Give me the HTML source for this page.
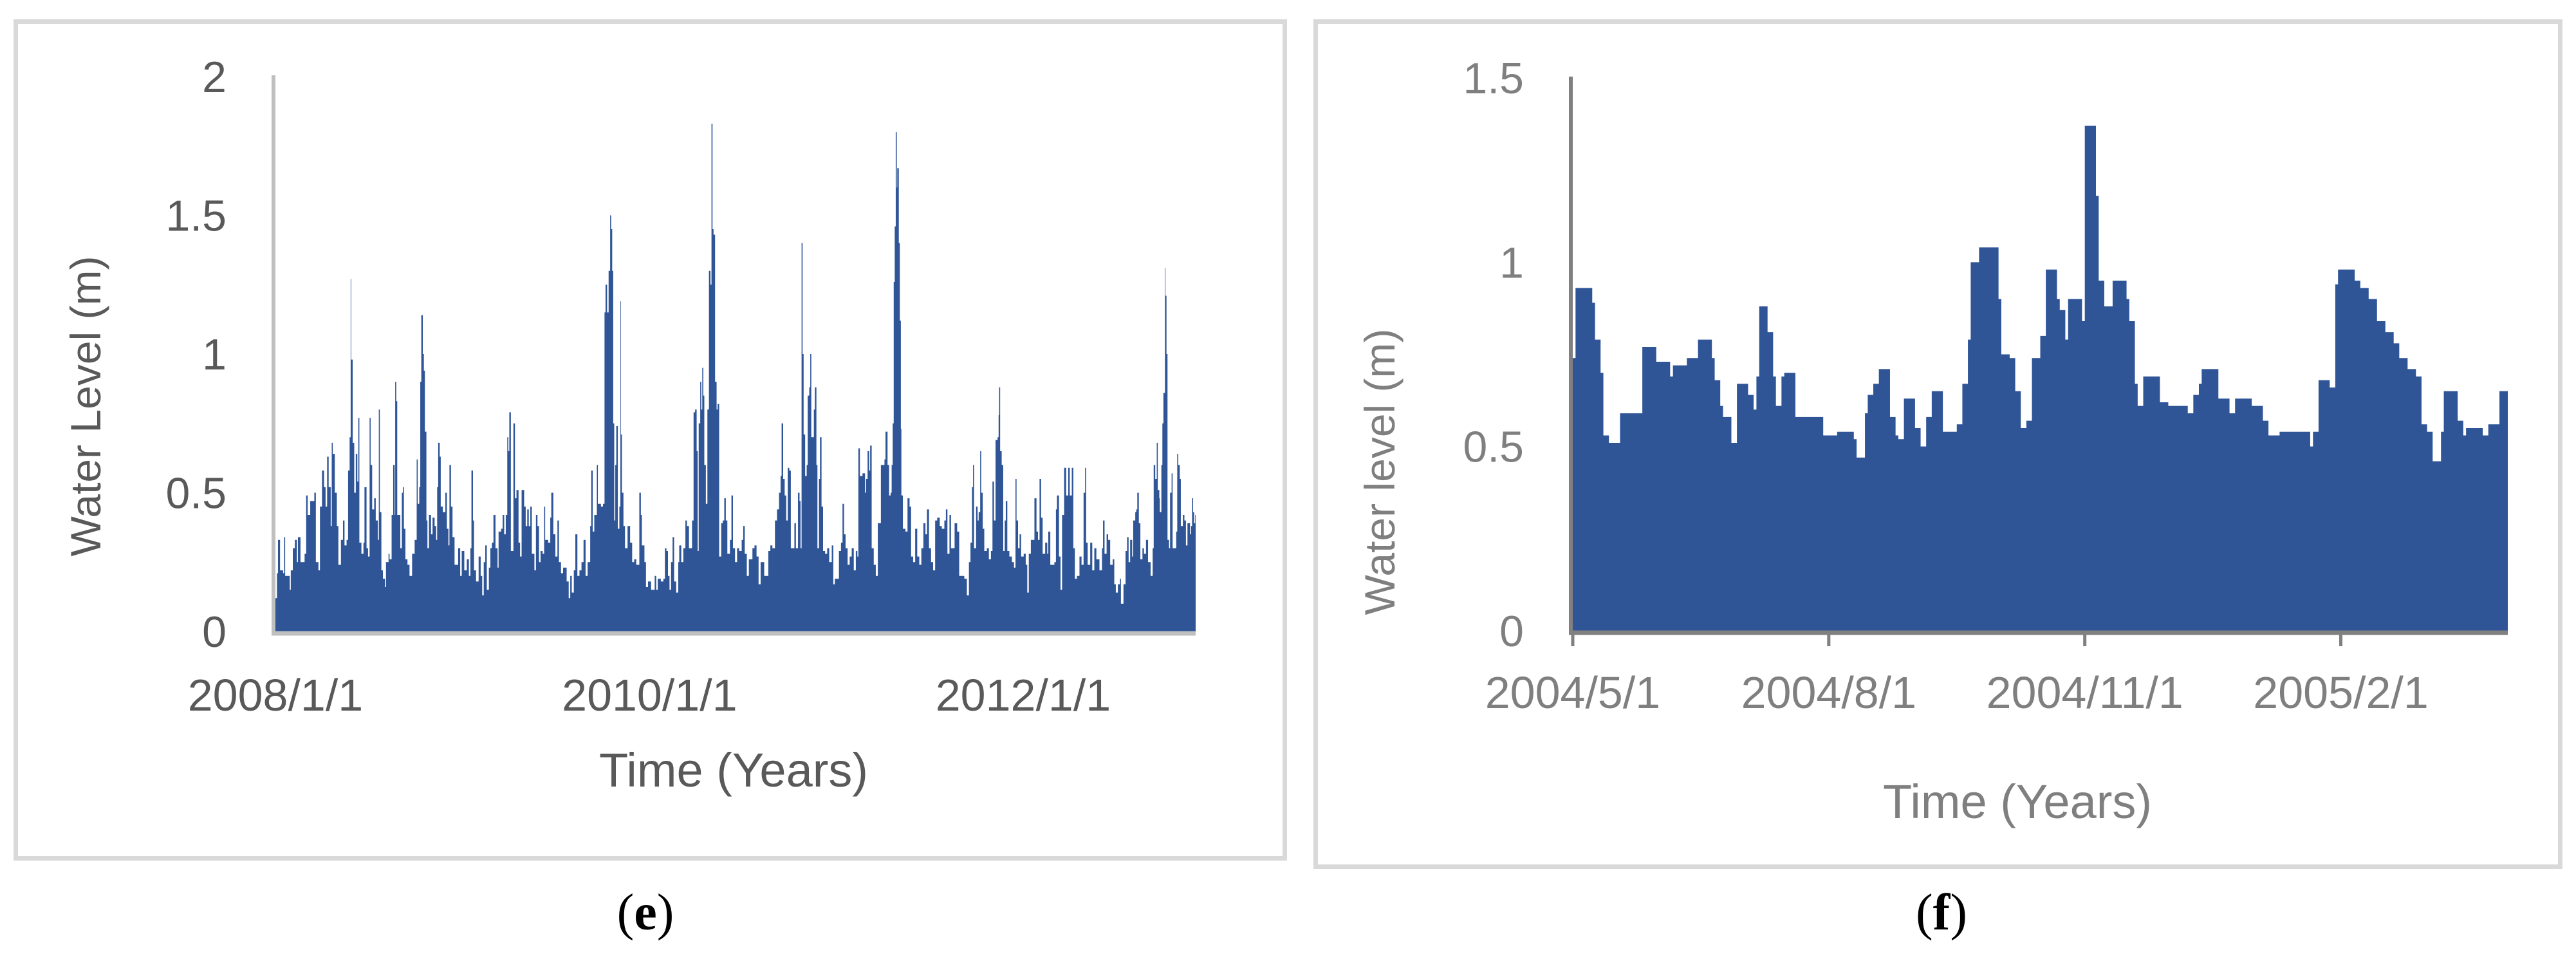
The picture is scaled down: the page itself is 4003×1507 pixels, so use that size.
<!DOCTYPE html>
<html><head><meta charset="utf-8"><style>
html,body{margin:0;padding:0;background:#fff;}
svg{display:block;}
</style></head><body>
<svg id="fig" width="4003" height="1507" viewBox="0 0 4003 1507" xmlns="http://www.w3.org/2000/svg" font-family="'Liberation Sans', sans-serif">
<rect x="0" y="0" width="4003" height="1507" fill="#fff"/>
<rect x="24.5" y="33.5" width="1972" height="1300" fill="none" stroke="#d9d9d9" stroke-width="7"/>
<rect x="2044.5" y="33.5" width="1934" height="1313" fill="none" stroke="#d9d9d9" stroke-width="7"/>
<g id="chartE"></g>
<g id="chartF"></g>
<text x="1003" y="1444" text-anchor="middle" font-family="'Liberation Serif', serif" font-size="80" fill="#000">(<tspan font-weight="bold">e</tspan>)</text>
<text x="3017" y="1444" text-anchor="middle" font-family="'Liberation Serif', serif" font-size="80" fill="#000">(<tspan font-weight="bold">f</tspan>)</text>
</svg>
<script>
// ---- Chart (e) data: day offset from 2008/1/1 and water level (m)
const eDays = [0,3,5,9,15,17,19,28,30,34,38,42,44,49,57,60,63,68,72,76,79,84,87,91,95,98,101,104,108,110,112,116,120,123,128,132,135,139,142,145,147,148,151,154,157,160,162,164,168,172,174,178,181,184,186,189,193,196,200,202,204,207,210,214,216,221,223,227,230,233,234,236,238,244,247,249,251,254,258,262,267,272,276,278,281,283,285,288,290,292,295,297,300,304,307,311,314,316,318,321,323,327,332,335,338,340,343,346,350,355,357,361,364,369,374,378,381,383,386,388,392,397,401,404,407,410,413,417,420,423,426,430,434,436,441,444,447,450,453,455,457,460,463,465,468,471,475,478,481,486,489,492,495,498,501,506,509,512,515,518,522,525,527,533,537,539,543,547,551,554,558,562,566,569,573,576,579,583,586,590,594,598,602,606,610,615,617,
618,620,623,628,630,636,640,643,645,648,651,654,656,658,660,662,664,666,669,672,674,675,677,680,683,688,693,697,701,705,711,714,716,721,724,728,734,741,744,747,753,758,761,764,767,770,773,776,779,783,787,789,793,797,801,804,808,811,814,817,820,823,825,827,830,832,834,836,838,841,844,847,850,852,854,856,859,862,864,867,871,874,877,880,883,888,891,894,898,902,906,911,914,917,921,925,932,936,940,944,948,955,961,963,967,971,976,980,984,987,989,992,995,998,1001,1004,1007,1011,1014,1017,1021,1024,1026,1028,1030,1032,1035,1038,1040,1043,1045,1047,1050,1052,1054,1057,1059,1062,1064,1067,1070,1074,1078,1082,1087,1090,1093,1097,1101,1105,1108,1111,1114,1118,1122,1126,1130,1134,1137,1139,1142,1147,1152,1154,1157,1160,1162,1165,1169,1173,1177,1181,1183,1187,1190,1192,1196,1199,1202,1204,1206,1208,1210,1212,1214,1215,1218,1220,1222,
1223,1226,1231,1235,1239,1242,1246,1250,1254,1258,1262,1266,1270,1273,1277,1281,1285,1289,1293,1298,1302,1307,1310,1313,1317,1320,1323,1327,1332,1336,1342,1346,1351,1355,1358,1361,1363,1365,1369,1372,1374,1377,1379,1382,1385,1390,1394,1398,1401,1404,1407,1411,1413,1414,1416,1419,1422,1425,1427,1430,1434,1439,1443,1446,1448,1451,1454,1457,1462,1466,1469,1472,1476,1481,1483,1487,1490,1493,1496,1499,1504,1508,1510,1514,1518,1522,1525,1527,1531,1534,1537,1541,1545,1549,1552,1556,1559,1562,1566,1571,1575,1579,1582,1584,1587,1592,1596,1600,1604,1608,1610,1615,1617,1620,1624,1627,1631,1636,1639,1642,1646,1650,1652,1657,1661,1664,1667,1670,1674,1676,1680,1682,1684,1687,1690,1694,1697,1701,1705,1710,1714,1716,1719,1722,1724,1727,1728,1731,1733,1735,1738,1739,1741,1743,1746,1748,1751,1753,1757,1760,1762,1764,1767,1769,1773,1776,1779,1782,1787,1789,1791,1793,1795,1797];
const eLevels = [0.12,0.21,0.33,0.22,0.21,0.34,0.2,0.15,0.22,0.3,0.33,0.25,0.34,0.25,0.28,0.49,0.42,0.47,0.47,0.5,0.25,0.22,0.45,0.58,0.52,0.45,0.63,0.52,0.38,0.68,0.64,0.5,0.38,0.24,0.33,0.4,0.31,0.33,0.58,0.7,1.27,0.98,0.68,0.5,0.64,0.54,0.77,0.32,0.28,0.32,0.52,0.3,0.27,0.77,0.6,0.44,0.48,0.4,0.33,0.8,0.43,0.22,0.19,0.16,0.25,0.28,0.26,0.42,0.6,0.42,0.9,0.83,0.42,0.3,0.5,0.52,0.37,0.26,0.24,0.2,0.28,0.33,0.62,0.46,0.52,0.9,1.14,1.0,0.94,0.72,0.4,0.3,0.42,0.35,0.41,0.38,0.33,0.52,0.68,0.63,0.45,0.43,0.5,0.37,0.31,0.6,0.45,0.34,0.24,0.24,0.3,0.2,0.29,0.22,0.26,0.2,0.3,0.58,0.4,0.22,0.18,0.27,0.2,0.13,0.25,0.31,0.15,0.23,0.3,0.32,0.42,0.3,0.23,0.36,0.37,0.42,0.35,0.42,0.7,0.65,0.79,0.29,0.29,0.75,0.48,0.51,0.32,0.27,0.51,0.45,0.38,0.44,0.38,0.45,0.28,0.22,0.42,0.38,0.25,0.29,0.28,0.45,0.33,0.32,0.41,0.5,0.35,0.27,0.4,0.25,0.21,0.23,0.23,0.18,0.12,0.2,0.14,0.22,0.35,0.2,0.22,0.25,0.33,0.2,0.25,0.38,0.58,
0.58,0.36,0.42,0.6,0.46,0.45,0.46,1.15,1.25,1.15,1.3,1.5,1.45,1.3,0.75,0.4,0.6,0.74,0.37,0.45,1.19,0.71,0.5,0.38,0.3,0.38,0.32,0.25,0.26,0.24,0.5,0.42,0.31,0.25,0.16,0.18,0.15,0.2,0.15,0.19,0.18,0.19,0.3,0.29,0.2,0.15,0.25,0.34,0.18,0.14,0.25,0.31,0.25,0.3,0.4,0.38,0.3,0.3,0.4,0.79,0.8,0.65,0.29,0.75,0.9,0.8,0.95,0.85,0.6,0.46,0.8,1.3,1.25,1.83,1.45,1.43,0.9,0.8,0.82,0.27,0.39,0.4,0.48,0.4,0.28,0.33,0.49,0.3,0.25,0.3,0.29,0.33,0.38,0.28,0.2,0.26,0.3,0.31,0.27,0.17,0.25,0.2,0.2,0.29,0.31,0.3,0.4,0.44,0.5,0.56,0.75,0.55,0.49,0.4,0.59,0.58,0.3,0.3,0.39,0.3,0.5,0.47,0.3,1.4,1.0,0.71,0.56,0.6,0.85,0.88,1.0,0.7,0.7,0.8,0.88,0.6,0.3,0.55,0.7,0.45,0.29,0.28,0.3,0.25,0.31,0.17,0.19,0.19,0.29,0.32,0.46,0.35,0.3,0.24,0.27,0.3,0.22,0.29,0.27,0.66,0.56,0.57,0.5,0.55,0.65,0.58,0.67,0.3,0.24,0.2,0.39,0.39,0.6,0.6,0.62,0.72,0.6,0.49,0.5,0.6,0.75,1.26,1.46,1.8,1.6,1.67,1.4,1.12,0.73,
0.49,0.37,0.36,0.48,0.45,0.27,0.25,0.37,0.27,0.24,0.3,0.39,0.35,0.44,0.3,0.25,0.22,0.4,0.41,0.38,0.37,0.4,0.44,0.28,0.42,0.3,0.3,0.39,0.36,0.2,0.2,0.19,0.13,0.25,0.32,0.52,0.6,0.3,0.45,0.4,0.43,0.65,0.5,0.37,0.29,0.3,0.26,0.29,0.54,0.4,0.69,0.7,0.78,0.88,0.65,0.6,0.29,0.4,0.47,0.29,0.27,0.25,0.23,0.55,0.4,0.3,0.35,0.27,0.28,0.24,0.14,0.28,0.33,0.33,0.48,0.36,0.33,0.55,0.41,0.28,0.32,0.28,0.36,0.24,0.24,0.25,0.44,0.49,0.27,0.15,0.42,0.59,0.49,0.59,0.49,0.59,0.3,0.19,0.2,0.27,0.24,0.5,0.59,0.32,0.24,0.32,0.22,0.3,0.26,0.26,0.22,0.3,0.4,0.28,0.35,0.33,0.24,0.26,0.17,0.14,0.17,0.19,0.1,0.17,0.29,0.34,0.25,0.33,0.27,0.4,0.43,0.44,0.5,0.39,0.26,0.3,0.28,0.33,0.25,0.2,0.3,0.6,0.55,0.68,0.51,0.48,0.43,0.6,0.75,0.86,1.31,1.21,1.0,0.33,0.3,0.5,0.57,0.3,0.3,0.36,0.64,0.6,0.55,0.38,0.42,0.4,0.31,0.39,0.35,0.38,0.48,0.43,0.39,0.42];
const eEndDay = 1798;
const eYTicks = [0, 0.5, 1, 1.5, 2];
const eYTickLabels = ["0", "0.5", "1", "1.5", "2"];
const eXTickDays = [0, 731, 1461];
const eXTickLabels = ["2008/1/1", "2010/1/1", "2012/1/1"];

// ---- Chart (f) data: day offset from 2004/5/1 and water level (m)
const fDays = [0,1,7,8,10,11,13,17,25,30,35,36,41,45,50,51,53,54,57,59,63,65,66,67,70,72,73,75,76,80,90,95,101,102,105,106,108,110,114,116,117,119,123,125,127,129,133,138,140,142,143,146,153,154,157,159,161,163,165,168,170,174,175,177,178,183,184,188,189,191,194,199,200,202,203,205,211,214,221,223,225,226,232,236,238,244,248,250,254,265,266,268,272,274,275,281,283,286,289,292,295,297,300,303,305,307,309,312,313,318,320,321,327,329,333];
const fLevels = [0.74,0.93,0.89,0.79,0.7,0.53,0.51,0.59,0.77,0.73,0.69,0.72,0.74,0.79,0.74,0.68,0.61,0.58,0.51,0.67,0.64,0.6,0.69,0.88,0.81,0.69,0.61,0.69,0.7,0.58,0.53,0.54,0.52,0.47,0.59,0.64,0.67,0.71,0.58,0.53,0.52,0.63,0.55,0.5,0.58,0.65,0.54,0.56,0.67,0.79,1.0,1.04,0.9,0.75,0.74,0.65,0.55,0.57,0.74,0.8,0.98,0.9,0.87,0.79,0.9,0.84,1.37,1.18,0.95,0.88,0.95,0.9,0.84,0.67,0.61,0.69,0.62,0.61,0.59,0.64,0.67,0.71,0.63,0.59,0.63,0.61,0.57,0.53,0.54,0.5,0.54,0.68,0.66,0.94,0.98,0.95,0.93,0.9,0.84,0.81,0.78,0.74,0.71,0.69,0.56,0.54,0.46,0.54,0.65,0.57,0.53,0.55,0.53,0.56,0.65];
const fEndDay = 336;
const fYTicks = [0, 0.5, 1, 1.5];
const fYTickLabels = ["0", "0.5", "1", "1.5"];
const fXTickDays = [0, 92, 184, 276];
const fXTickLabels = ["2004/5/1", "2004/8/1", "2004/11/1", "2005/2/1"];

const NS = "http://www.w3.org/2000/svg";
function mk(parent, tag, attrs, text) {
  const el = document.createElementNS(NS, tag);
  for (const k in attrs) el.setAttribute(k, attrs[k]);
  if (text !== undefined) el.textContent = text;
  parent.appendChild(el);
  return el;
}

function drawChart(g, cfg) {
  const xS = d => cfg.x0 + (d / cfg.endDay) * (cfg.x1 - cfg.x0);
  const yS = v => cfg.yBase - (v / cfg.yMax) * (cfg.yBase - cfg.yTop);
  let dPath = "M" + xS(cfg.days[0]) + "," + cfg.yBase;
  for (let i = 0; i < cfg.days.length; i++) {
    const xa = xS(cfg.days[i]);
    const xb = xS(i + 1 < cfg.days.length ? cfg.days[i + 1] : cfg.endDay);
    const yv = yS(cfg.levels[i]);
    dPath += " L" + xa.toFixed(2) + "," + yv.toFixed(2) + " L" + xb.toFixed(2) + "," + yv.toFixed(2);
  }
  dPath += " L" + xS(cfg.endDay) + "," + cfg.yBase + " Z";
  const area = mk(g, "path", {d: dPath, fill: "#2f5597"});
  
  
  const yAx = mk(g, "line", {x1: cfg.x0 - 3, y1: cfg.yTop - 2, x2: cfg.x0 - 3, y2: cfg.yBase + 3, stroke: cfg.axisColor, "stroke-width": 6});
  
  
  const xAx = mk(g, "line", {x1: cfg.x0 - 6, y1: cfg.yBase + 3, x2: xS(cfg.endDay), y2: cfg.yBase + 3, stroke: cfg.axisColor, "stroke-width": 7});
  
  
  for (let i = 0; i < cfg.yTicks.length; i++) {
    const t = mk(g, "text", {x: cfg.yLabelRight, y: yS(cfg.yTicks[i]) + 24, "text-anchor": "end", "font-size": 68, fill: cfg.textColor}, cfg.yTickLabels[i]);
    
    
  }
  for (let i = 0; i < cfg.xTickDays.length; i++) {
    const xx = xS(cfg.xTickDays[i]);
    if (cfg.tickMarks) {
      const tm = mk(g, "line", {x1: xx, y1: cfg.yBase, x2: xx, y2: cfg.yBase + 24, stroke: cfg.axisColor, "stroke-width": 5});
      
      
    }
    const t = mk(g, "text", {x: xx, y: cfg.xLabelY, "text-anchor": "middle", "font-size": 70, fill: cfg.textColor}, cfg.xTickLabels[i]);
    
    
  }
  const xt = mk(g, "text", {x: cfg.xTitleX, y: cfg.xTitleY, "text-anchor": "middle", "font-size": 74, fill: cfg.textColor}, "Time (Years)");
  
  
  const yt = mk(g, "text", {x: 0, y: 0, "text-anchor": "middle", "font-size": 66, fill: cfg.textColor, transform: "translate(" + (cfg.yTitleX + 23) + "," + cfg.yTitleY + ") rotate(-90)"}, cfg.yTitle);
  
  
}

drawChart(document.getElementById("chartE"), {
  days: eDays, levels: eLevels, endDay: eEndDay, yTicks: eYTicks, yTickLabels: eYTickLabels,
  xTickDays: eXTickDays, xTickLabels: eXTickLabels,
  x0: 428, x1: 1858, yBase: 981, yTop: 119, yMax: 2,
  axisColor: "#bfbfbf", textColor: "#595959", yLabelRight: 352, xLabelY: 1104,
  xTitleX: 1140, xTitleY: 1222, yTitleX: 133, yTitleY: 631, yTitle: "Water Level (m)", tickMarks: false
});
drawChart(document.getElementById("chartF"), {
  days: fDays, levels: fLevels, endDay: fEndDay, yTicks: fYTicks, yTickLabels: fYTickLabels,
  xTickDays: fXTickDays, xTickLabels: fXTickLabels,
  x0: 2444, x1: 3897, yBase: 980, yTop: 121, yMax: 1.5,
  axisColor: "#808080", textColor: "#7f7f7f", yLabelRight: 2368, xLabelY: 1100,
  xTitleX: 3135, xTitleY: 1271, yTitleX: 2144, yTitleY: 733, yTitle: "Water level (m)", tickMarks: true
});
</script>
</body></html>
